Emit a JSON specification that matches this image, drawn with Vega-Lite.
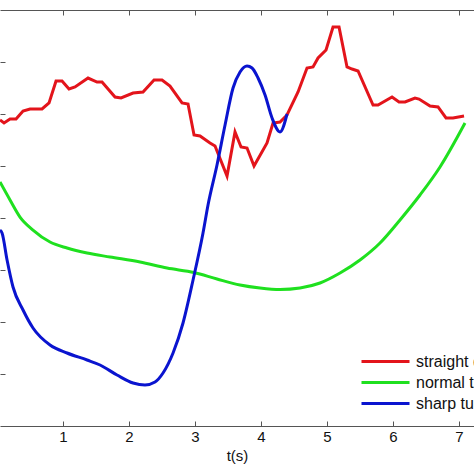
{
  "$schema": "https://vega.github.io/schema/vega-lite/v6.json",
  "width": 474,
  "height": 416,
  "autosize": {"type": "none"},
  "padding": {"left": 0, "top": 10, "right": 0, "bottom": 48},
  "config": {
    "view": {"stroke": null},
    "font": "Liberation Sans",
    "axis": {
      "domainColor": "#555555",
      "tickColor": "#555555",
      "labelColor": "#111111",
      "titleColor": "#111111",
      "labelFontSize": 15,
      "titleFontSize": 15,
      "titleFontWeight": "normal",
      "grid": false
    }
  },
  "data": {
    "values": [
      {"series": "straight driving", "t": 0.045, "v": 5.885},
      {"series": "straight driving", "t": 0.106, "v": 5.827},
      {"series": "straight driving", "t": 0.197, "v": 5.904},
      {"series": "straight driving", "t": 0.288, "v": 5.904},
      {"series": "straight driving", "t": 0.394, "v": 6.058},
      {"series": "straight driving", "t": 0.5, "v": 6.096},
      {"series": "straight driving", "t": 0.682, "v": 6.096},
      {"series": "straight driving", "t": 0.788, "v": 6.212},
      {"series": "straight driving", "t": 0.894, "v": 6.635},
      {"series": "straight driving", "t": 0.985, "v": 6.635},
      {"series": "straight driving", "t": 1.091, "v": 6.481},
      {"series": "straight driving", "t": 1.182, "v": 6.519},
      {"series": "straight driving", "t": 1.379, "v": 6.692},
      {"series": "straight driving", "t": 1.515, "v": 6.615},
      {"series": "straight driving", "t": 1.591, "v": 6.615},
      {"series": "straight driving", "t": 1.788, "v": 6.327},
      {"series": "straight driving", "t": 1.879, "v": 6.308},
      {"series": "straight driving", "t": 2.061, "v": 6.404},
      {"series": "straight driving", "t": 2.212, "v": 6.423},
      {"series": "straight driving", "t": 2.379, "v": 6.654},
      {"series": "straight driving", "t": 2.5, "v": 6.654},
      {"series": "straight driving", "t": 2.621, "v": 6.538},
      {"series": "straight driving", "t": 2.803, "v": 6.212},
      {"series": "straight driving", "t": 2.894, "v": 6.192},
      {"series": "straight driving", "t": 2.985, "v": 5.596},
      {"series": "straight driving", "t": 3.076, "v": 5.577},
      {"series": "straight driving", "t": 3.227, "v": 5.442},
      {"series": "straight driving", "t": 3.303, "v": 5.385},
      {"series": "straight driving", "t": 3.485, "v": 4.808},
      {"series": "straight driving", "t": 3.606, "v": 5.654},
      {"series": "straight driving", "t": 3.697, "v": 5.365},
      {"series": "straight driving", "t": 3.788, "v": 5.346},
      {"series": "straight driving", "t": 3.894, "v": 5.0},
      {"series": "straight driving", "t": 4.091, "v": 5.442},
      {"series": "straight driving", "t": 4.182, "v": 5.827},
      {"series": "straight driving", "t": 4.288, "v": 5.846},
      {"series": "straight driving", "t": 4.394, "v": 5.981},
      {"series": "straight driving", "t": 4.561, "v": 6.423},
      {"series": "straight driving", "t": 4.697, "v": 6.885},
      {"series": "straight driving", "t": 4.788, "v": 6.904},
      {"series": "straight driving", "t": 4.864, "v": 7.077},
      {"series": "straight driving", "t": 4.985, "v": 7.231},
      {"series": "straight driving", "t": 5.091, "v": 7.673},
      {"series": "straight driving", "t": 5.182, "v": 7.673},
      {"series": "straight driving", "t": 5.303, "v": 6.904},
      {"series": "straight driving", "t": 5.379, "v": 6.865},
      {"series": "straight driving", "t": 5.47, "v": 6.827},
      {"series": "straight driving", "t": 5.697, "v": 6.173},
      {"series": "straight driving", "t": 5.773, "v": 6.173},
      {"series": "straight driving", "t": 5.985, "v": 6.327},
      {"series": "straight driving", "t": 6.091, "v": 6.231},
      {"series": "straight driving", "t": 6.182, "v": 6.231},
      {"series": "straight driving", "t": 6.333, "v": 6.308},
      {"series": "straight driving", "t": 6.394, "v": 6.288},
      {"series": "straight driving", "t": 6.561, "v": 6.154},
      {"series": "straight driving", "t": 6.682, "v": 6.135},
      {"series": "straight driving", "t": 6.803, "v": 5.923},
      {"series": "straight driving", "t": 6.909, "v": 5.923},
      {"series": "straight driving", "t": 7.076, "v": 5.962},
      {"series": "normal turning", "t": 0.045, "v": 4.692},
      {"series": "normal turning", "t": 0.197, "v": 4.346},
      {"series": "normal turning", "t": 0.348, "v": 4.019},
      {"series": "normal turning", "t": 0.545, "v": 3.769},
      {"series": "normal turning", "t": 0.803, "v": 3.538},
      {"series": "normal turning", "t": 1.061, "v": 3.423},
      {"series": "normal turning", "t": 1.364, "v": 3.327},
      {"series": "normal turning", "t": 1.712, "v": 3.25},
      {"series": "normal turning", "t": 2.167, "v": 3.154},
      {"series": "normal turning", "t": 2.576, "v": 3.038},
      {"series": "normal turning", "t": 2.985, "v": 2.952},
      {"series": "normal turning", "t": 3.333, "v": 2.827},
      {"series": "normal turning", "t": 3.682, "v": 2.712},
      {"series": "normal turning", "t": 3.985, "v": 2.654},
      {"series": "normal turning", "t": 4.288, "v": 2.625},
      {"series": "normal turning", "t": 4.591, "v": 2.654},
      {"series": "normal turning", "t": 4.894, "v": 2.75},
      {"series": "normal turning", "t": 5.197, "v": 2.942},
      {"series": "normal turning", "t": 5.5, "v": 3.192},
      {"series": "normal turning", "t": 5.803, "v": 3.519},
      {"series": "normal turning", "t": 6.106, "v": 3.962},
      {"series": "normal turning", "t": 6.409, "v": 4.442},
      {"series": "normal turning", "t": 6.712, "v": 4.981},
      {"series": "normal turning", "t": 7.091, "v": 5.827},
      {"series": "sharp turning", "t": 0.045, "v": 3.769},
      {"series": "sharp turning", "t": 0.076, "v": 3.712},
      {"series": "sharp turning", "t": 0.152, "v": 3.192},
      {"series": "sharp turning", "t": 0.242, "v": 2.673},
      {"series": "sharp turning", "t": 0.394, "v": 2.231},
      {"series": "sharp turning", "t": 0.545, "v": 1.885},
      {"series": "sharp turning", "t": 0.803, "v": 1.558},
      {"series": "sharp turning", "t": 1.061, "v": 1.404},
      {"series": "sharp turning", "t": 1.364, "v": 1.269},
      {"series": "sharp turning", "t": 1.561, "v": 1.173},
      {"series": "sharp turning", "t": 1.818, "v": 0.981},
      {"series": "sharp turning", "t": 2.061, "v": 0.827},
      {"series": "sharp turning", "t": 2.242, "v": 0.788},
      {"series": "sharp turning", "t": 2.394, "v": 0.846},
      {"series": "sharp turning", "t": 2.515, "v": 1.019},
      {"series": "sharp turning", "t": 2.667, "v": 1.404},
      {"series": "sharp turning", "t": 2.818, "v": 1.981},
      {"series": "sharp turning", "t": 2.97, "v": 2.808},
      {"series": "sharp turning", "t": 3.121, "v": 3.712},
      {"series": "sharp turning", "t": 3.197, "v": 4.25},
      {"series": "sharp turning", "t": 3.333, "v": 5.019},
      {"series": "sharp turning", "t": 3.455, "v": 5.788},
      {"series": "sharp turning", "t": 3.576, "v": 6.5},
      {"series": "sharp turning", "t": 3.682, "v": 6.808},
      {"series": "sharp turning", "t": 3.788, "v": 6.923},
      {"series": "sharp turning", "t": 3.864, "v": 6.885},
      {"series": "sharp turning", "t": 3.955, "v": 6.692},
      {"series": "sharp turning", "t": 4.061, "v": 6.365},
      {"series": "sharp turning", "t": 4.167, "v": 5.923},
      {"series": "sharp turning", "t": 4.288, "v": 5.654},
      {"series": "sharp turning", "t": 4.394, "v": 6.0}
    ]
  },
  "layer": [
    {
      "transform": [{"filter": "datum.series === 'straight driving'"}],
      "mark": {"type": "line", "strokeWidth": 3, "clip": true},
      "encoding": {
        "x": {
          "field": "t",
          "type": "quantitative",
          "scale": {"domain": [0.045, 7.227], "nice": false, "zero": false},
          "axis": {
            "orient": "bottom",
            "values": [0, 1, 2, 3, 4, 5, 6, 7],
            "tickSize": -5,
            "labelPadding": 8,
            "title": "t(s)",
            "titlePadding": 4
          }
        },
        "y": {
          "field": "v",
          "type": "quantitative",
          "scale": {"domain": [0, 8], "nice": false, "zero": false},
          "axis": {
            "values": [1, 2, 3, 4, 5, 6, 7],
            "tickSize": -5,
            "labels": false,
            "domain": false,
            "title": null
          }
        },
        "color": {
          "field": "series",
          "type": "nominal",
          "scale": {
            "domain": ["straight driving", "normal turning", "sharp turning"],
            "range": ["#e3141b", "#1fe01f", "#0a14cf"]
          },
          "legend": {
            "title": null,
            "orient": "none",
            "legendX": 360,
            "legendY": 341,
            "symbolType": "stroke",
            "symbolSize": 2304,
            "symbolStrokeWidth": 3,
            "labelFontSize": 16,
            "labelColor": "#111111",
            "labelLimit": 300,
            "clipHeight": 21,
            "rowPadding": 0,
            "labelOffset": 5
          }
        }
      }
    },
    {
      "transform": [{"filter": "datum.series !== 'straight driving'"}],
      "mark": {"type": "line", "strokeWidth": 3, "clip": true, "interpolate": "monotone"},
      "encoding": {
        "x": {
          "field": "t",
          "type": "quantitative",
          "scale": {"domain": [0.045, 7.227], "nice": false, "zero": false},
          "axis": null
        },
        "y": {"field": "v", "type": "quantitative"},
        "color": {"field": "series", "type": "nominal"}
      }
    },
    {
      "mark": {"type": "line", "opacity": 0},
      "encoding": {
        "x": {
          "field": "t",
          "type": "quantitative",
          "scale": {"domain": [0.045, 7.227], "nice": false, "zero": false},
          "axis": {
            "orient": "top",
            "values": [1, 2, 3, 4, 5, 6, 7],
            "tickSize": -5,
            "labels": false,
            "title": null
          }
        },
        "y": {"field": "v", "type": "quantitative"},
        "detail": {"field": "series"}
      }
    }
  ],
  "resolve": {"axis": {"x": "independent"}}
}
